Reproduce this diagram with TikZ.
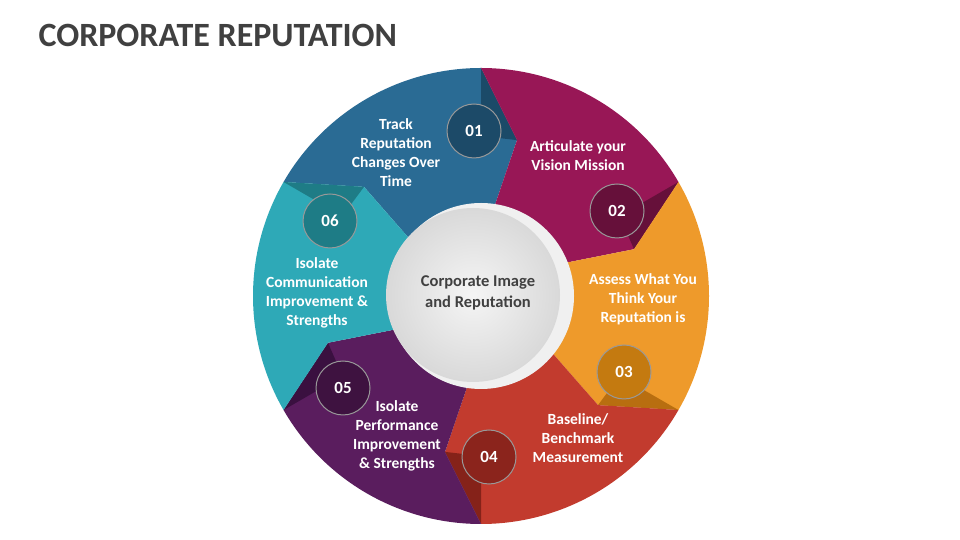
\documentclass[tikz,border=0pt]{standalone}
\usepackage{fontspec}
\setmainfont{Carlito}
\usetikzlibrary{calc}
\begin{document}
\begin{tikzpicture}[x=1pt,y=1pt,
  lab/.style={text=white,font=\bfseries\fontsize{15.5}{19}\selectfont,align=center},
  num/.style={circle,minimum size=54pt,text=white,font=\bfseries\fontsize{17}{19}\selectfont,draw=white!60!black,line width=1pt}]
\useasboundingbox (0,0) rectangle (960,540);
\fill[white] (0,0) rectangle (960,540);
\node[anchor=west,text=black!75,font=\bfseries\fontsize{34}{40}\selectfont] (title) at (35,505) {CORPORATE REPUTATION};
\coordinate (c) at (481,244);
\def\Ro{228}\def\Ri{50}\def\Rm{160}\def\d{13}
\foreach \a/\col/\dk [count=\i] in {150/2A6B94/1B4A68,90/981756/66103A,30/EE9A2B/B86E10,-30/C23B2E/852219,-90/5A1D5E/3A1040,-150/2EA9B7/1E7C86}{
  \definecolor{seg}{HTML}{\col}\definecolor{segd}{HTML}{\dk}
  \pgfmathsetmacro\b{\a-60}
  \fill[seg] ($(c)+(\a:\Ro)$) arc[start angle=\a,end angle=\b,radius=\Ro]
     -- ($(c)+(\b-\d:\Rm)$) -- ($(c)+(\b:\Ri)$)
     arc[start angle=\b,end angle=\a,radius=\Ri] -- ($(c)+(\a-\d:\Rm)$) -- cycle;
  \fill[segd] ($(c)+(\b:\Ro)$) -- ($(c)+(\b-\d:\Rm)$) -- ($(c)+(\b:\Rm)$) -- cycle;
}
\fill[gray!12] (c) circle (93);
\shade[inner color=gray!8,outer color=gray!30] (473,245) circle (87);
\node[text=black!75,font=\bfseries\fontsize{16.5}{21}\selectfont,align=center] (core) at (478,247) {Corporate Image\\and Reputation};
\node[num,fill={rgb,255:red,28;green,74;blue,104}] (n1) at (474,409) {01};
\node[num,fill={rgb,255:red,102;green,16;blue,58}] (n2) at (617,329) {02};
\node[num,fill={rgb,255:red,196;green,122;blue,16}] (n3) at (624,168) {03};
\node[num,fill={rgb,255:red,139;green,36;blue,28}] (n4) at (489,83) {04};
\node[num,fill={rgb,255:red,62;green,18;blue,64}] (n5) at (343,152) {05};
\node[num,fill={rgb,255:red,30;green,124;blue,134}] (n6) at (330,319) {06};
\node[lab] (t1) at (396,387) {Track\\Reputation\\Changes Over\\Time};
\node[lab] (t2) at (578,384) {Articulate your\\Vision Mission};
\node[lab] (t3) at (643,241) {Assess What You\\Think Your\\Reputation is};
\node[lab] (t4) at (578,102) {Baseline/\\Benchmark\\Measurement};
\node[lab] (t5) at (397,104) {Isolate\\Performance\\Improvement\\\& Strengths};
\node[lab] (t6) at (317,247) {Isolate\\Communication\\Improvement \&\\Strengths};
\end{tikzpicture}
\end{document}
